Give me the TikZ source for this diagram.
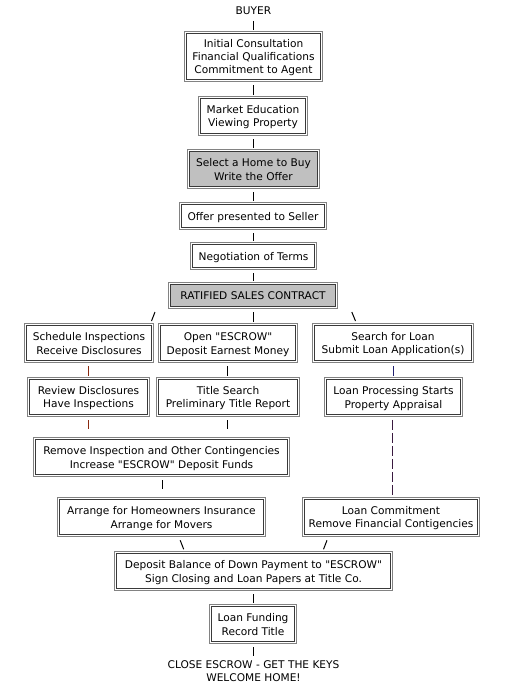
\documentclass[tikz,border=0pt]{standalone}
\usepackage{fontspec}
\setmainfont{DejaVu Sans}[Ligatures=TeXOff]
\definecolor{outerc}{HTML}{828282}
\definecolor{innerc}{HTML}{3A3A3A}
\definecolor{boxgray}{HTML}{C0C0C0}
\definecolor{colA}{HTML}{8A2A10}
\definecolor{colC}{HTML}{202070}
\definecolor{colD}{HTML}{3A1A40}
\newcommand\ls{\rule[-2.1pt]{0pt}{13pt}}
\newcommand\drawbox[7]{%
  \node[boxn, fill=#7, minimum width={#4pt-#2pt}, minimum height={#5pt-#3pt}] (#1) at ({(#2+#4)/2},{(#3+#5)/2}) {#6};
  \draw[gapln] ([xshift=1pt,yshift=-1pt]#1.north west) rectangle ([xshift=-1pt,yshift=1pt]#1.south east);
  \draw[innerln] ([xshift=2pt,yshift=-2pt]#1.north west) rectangle ([xshift=-2pt,yshift=2pt]#1.south east);
}
\begin{document}
\begin{tikzpicture}[x=1pt,y=-1pt,
  every node/.style={font=\fontsize{10.6}{13}\selectfont, text=black},
  boxn/.style={draw=outerc, line width=1pt, inner sep=0pt, outer sep=0pt, align=center},
  innerln/.style={draw=innerc, line width=1pt},
  gapln/.style={draw=white, line width=1pt},
  conn/.style={line width=1pt, draw=black, shorten <=3.5pt, shorten >=2pt},
  slashln/.style={line width=1pt, draw=black}]
\useasboundingbox[fill=white] (0,0) rectangle (513,688);

\coordinate (mx) at (253.5,0);
\coordinate (ax) at (88.5,0);
\coordinate (bx) at (227.5,0);
\coordinate (cx) at (393.5,0);
\coordinate (dx) at (392.5,0);
\coordinate (rx) at (162.5,0);

\node[inner sep=0pt] (buyer) at (253.5,11) {BUYER};

\drawbox{b1}{184.5}{31.5}{322.5}{81.5}{\ls Initial Consultation\\\ls Financial Qualifications\\\ls Commitment to Agent}{white}
\drawbox{b2}{198.5}{96.5}{307.5}{135.5}{\ls Market Education\\\ls Viewing Property}{white}
\drawbox{b3}{187.5}{149.5}{319.5}{188.5}{\ls Select a Home to Buy\\\ls Write the Offer}{boxgray}
\drawbox{b4}{179.5}{202.5}{326.5}{229.5}{\ls Offer presented to Seller}{white}
\drawbox{b5}{190.5}{242.5}{316.5}{269.5}{\ls Negotiation of Terms}{white}
\drawbox{rat}{168.5}{282.5}{337.5}{308.5}{\ls RATIFIED SALES CONTRACT}{boxgray}
\drawbox{a1}{24.5}{323.5}{153.5}{362.5}{\ls Schedule Inspections\\\ls Receive Disclosures}{white}
\drawbox{o1}{158.5}{323.5}{297.5}{362.5}{\ls Open "ESCROW"\\\ls Deposit Earnest Money}{white}
\drawbox{c1}{312.5}{323.5}{473.5}{362.5}{\ls Search for Loan\\\ls Submit Loan Application(s)}{white}
\drawbox{a2}{27.5}{377.5}{149.5}{416.5}{\ls Review Disclosures\\\ls Have Inspections}{white}
\drawbox{o2}{156.5}{377.5}{299.5}{416.5}{\ls Title Search\\\ls Preliminary Title Report}{white}
\drawbox{c2}{324.5}{377.5}{462.5}{416.5}{\ls Loan Processing Starts\\\ls Property Appraisal}{white}
\drawbox{rem}{33.5}{437.5}{289.5}{476.5}{\ls Remove Inspection and Other Contingencies\\\ls Increase "ESCROW" Deposit Funds}{white}
\drawbox{d}{57.5}{497.5}{265.5}{536.5}{\ls Arrange for Homeowners Insurance\\\ls Arrange for Movers}{white}
\drawbox{e}{302.5}{497.5}{479.5}{536.5}{\ls Loan Commitment\\\ls Remove Financial Contigencies}{white}
\drawbox{f}{114.5}{551.5}{392.5}{590.5}{\ls Deposit Balance of Down Payment to "ESCROW"\\\ls Sign Closing and Loan Papers at Title Co.}{white}
\drawbox{g}{209.5}{604.5}{296.5}{643.5}{\ls Loan Funding\\\ls Record Title}{white}

\node[inner sep=0pt, anchor=north, align=center] (close) at (253.5,660) {CLOSE ESCROW - GET THE KEYS\\WELCOME HOME!};

% vertical connectors
\draw[conn, shorten <=5.8pt, shorten >=1.7pt] (buyer.south -| mx) -- (b1.north -| mx);
\draw[conn] (b1.south -| mx) -- (b2.north -| mx);
\draw[conn] (b2.south -| mx) -- (b3.north -| mx);
\draw[conn] (b3.south -| mx) -- (b4.north -| mx);
\draw[conn] (b4.south -| mx) -- (b5.north -| mx);
\draw[conn] (b5.south -| mx) -- (rat.north -| mx);
\draw[conn] (rat.south -| mx) -- (o1.north -| mx);
\draw[conn, draw=colA] (a1.south -| ax) -- (a2.north -| ax);
\draw[conn] (o1.south -| bx) -- (o2.north -| bx);
\draw[conn, draw=colC] (c1.south -| cx) -- (c2.north -| cx);
\draw[conn, draw=colA, shorten >=8.4pt] (a2.south -| ax) -- (rem.north -| ax);
\draw[conn, shorten >=8.4pt] (o2.south -| bx) -- (rem.north -| bx);
\draw[line width=1pt, draw=colD, dash pattern=on 10pt off 3pt, shorten <=3.3pt, shorten >=2.7pt] (c2.south -| dx) -- (e.north -| dx);
\draw[conn, shorten >=8.4pt] (rem.south -| rx) -- (d.north -| rx);
\draw[conn] (f.south -| mx) -- (g.north -| mx);
\draw[conn, shorten >=4pt] (g.south -| mx) -- (close.north -| mx);

% slanted connectors
\coordinate (s1t) at (155,312);   \coordinate (s1b) at (151.5,321);
\coordinate (s2t) at (351.8,312); \coordinate (s2b) at (355.5,321);
\coordinate (s3t) at (180.2,540.3); \coordinate (s3b) at (183.7,549.3);
\coordinate (s4t) at (327,540.3); \coordinate (s4b) at (323.5,549.3);
\draw[slashln] (s1t) -- (s1b);
\draw[slashln] (s2t) -- (s2b);
\draw[slashln] (s3t) -- (s3b);
\draw[slashln] (s4t) -- (s4b);
\end{tikzpicture}
\end{document}
